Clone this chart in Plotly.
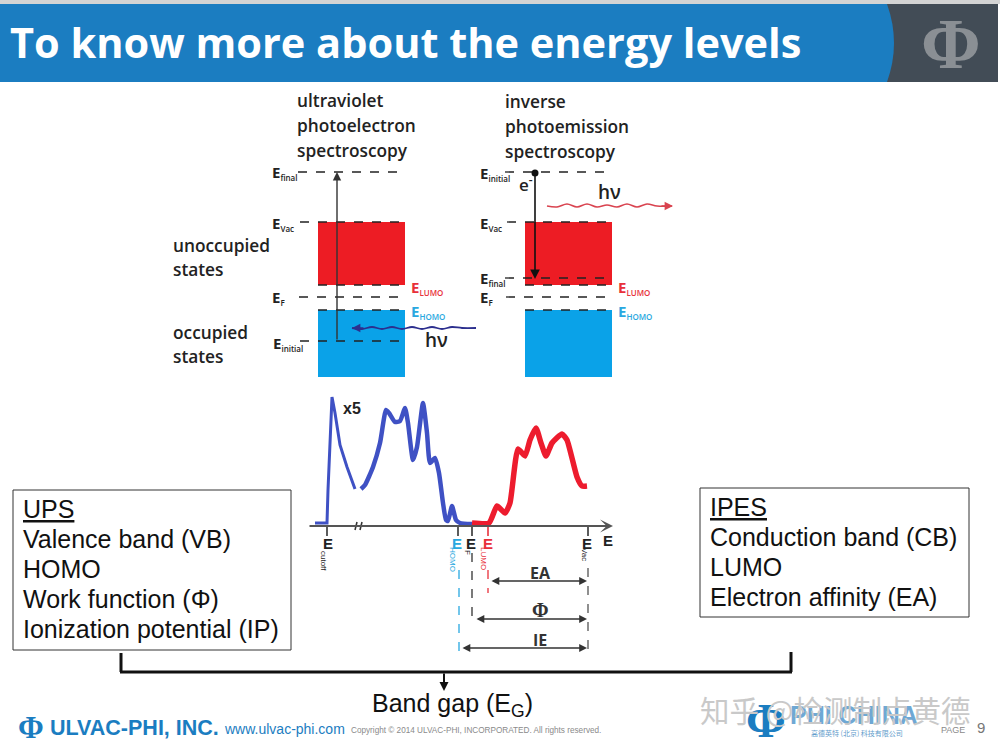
import plotly.graph_objects as go

# ---- data (x, y in slide pixels) ----
ups_low_x = [315, 327, 328, 332, 335, 340, 347, 355]
ups_low_y = [523, 523, 490, 397, 413, 445, 467, 489]
ups_val_x = [361, 365, 373, 380, 386, 389, 395, 400, 405, 408, 413, 417, 423, 427, 430, 435, 439, 443, 446, 448, 452, 456, 460, 472]
ups_val_y = [489, 485, 467, 443, 410, 413, 422, 421, 408, 423, 460, 447, 403, 433, 463, 458, 473, 503, 520, 521, 506, 520, 523, 524]
ipes_x = [472, 489, 497, 505, 510, 518, 525, 530, 536, 541, 546, 552, 562, 567, 577, 582, 587]
ipes_y = [523, 523, 506, 513, 503, 449, 456, 440, 428, 443, 456, 443, 434, 440, 477, 486, 486]
wave_blue_x = [352, 362, 372, 382, 392, 402, 412, 422, 432, 442, 452, 462, 476]
wave_blue_y = [328, 329, 327, 329, 327, 329, 327, 329, 327, 329, 327, 328, 328]
wave_red_x = [547, 557, 567, 577, 587, 597, 607, 617, 627, 637, 647, 657, 672]
wave_red_y = [206, 207, 204, 207, 204, 207, 205, 207, 204, 207, 204, 206, 206]
band_red = [(318, 405, 222, 285), (525, 612, 222, 285)]
band_blue = [(318, 405, 310, 377), (525, 612, 310, 377)]
levels_left = [(298, 405, 172), (300, 405, 222), (318, 405, 285), (299, 407, 297), (318, 405, 310), (300, 405, 341)]
levels_right = [(505, 612, 172), (507, 612, 222), (505, 612, 278), (525, 612, 285), (506, 614, 297), (525, 612, 310)]
ticks = [(327, '#333333'), (458, '#333333'), (472, '#333333'), (488, '#e8303a'), (588, '#333333')]
drops = [(459, 570, 655, '#29a8e0'), (472, 553, 622, '#333333'), (488, 570, 593, '#e8303a'), (588, 568, 655, '#555555')]
spans = [(490, 581), (475, 619), (461, 648)]
ups_items = ['UPS', 'Valence band (VB)', 'HOMO', 'Work function (Φ)', 'Ionization potential (IP)']
ipes_items = ['IPES', 'Conduction band (CB)', 'LUMO', 'Electron affinity (EA)']

BLUE = '#1b7dc1'
RED = '#ed1c24'
CYAN = '#0aa2e8'
DIA = 'Open Sans'
ARIAL = 'Liberation Sans'
shapes, notes, traces = [], [], []


def rect(x0, x1, y0, y1, fill, line=None, w=1):
    shapes.append(dict(type='rect', xref='x', yref='y', x0=x0, x1=x1, y0=y0, y1=y1, fillcolor=fill,
                       line=dict(color=line or fill, width=w if line else 0), layer='below'))


def seg(x0, y0, x1, y1, color='#222222', w=1.3, dash='solid'):
    shapes.append(dict(type='line', xref='x', yref='y', x0=x0, y0=y0, x1=x1, y1=y1,
                       line=dict(color=color, width=w, dash=dash)))


def txt(x, y, s, size=18, color='#222222', font=DIA, anchor='left', angle=0, weight=None):
    f = dict(size=size, color=color, family=font)
    if weight:
        f['weight'] = weight
    notes.append(dict(x=x - 2 if anchor == 'left' else x, y=y, xref='x', yref='y', text=s, showarrow=False,
                      xanchor=anchor, yanchor='middle', textangle=angle, font=f))


def arrow(x0, y0, x1, y1, color='#222222', w=1.3, both=False, head=2, size=1.2):
    notes.append(dict(x=x1, y=y1, ax=x0, ay=y0, xref='x', yref='y', axref='x', ayref='y', text='', showarrow=True,
                      arrowhead=head, startarrowhead=head, arrowsize=size, startarrowsize=size,
                      arrowwidth=w, arrowcolor=color, arrowside='end+start' if both else 'end'))


def elabel(x, y, sub, color='#222222'):
    txt(x, y, f'<b>E</b><sub><span style="font-size:8px">{sub}</span></sub>', 15, color, DIA, weight=600)


# header
rect(0, 1000, 0, 4, '#d4d4d4')
rect(880, 998, 4, 82, '#424c56')
shapes.append(dict(type='path', xref='x', yref='y', path='M0,4 L887,4 Q901,43 887,82 L0,82 Z',
                   fillcolor=BLUE, line=dict(width=0), layer='below'))
txt(10, 42, '<b>To know more about the energy levels</b>', 41.5, 'white', 'Open Sans')
txt(951, 44, '<b>Φ</b>', 72, '#8a8f94', 'Liberation Serif', 'center')

# bands and levels
for b in band_red:
    rect(b[0], b[1], b[2], b[3], RED)
for b in band_blue:
    rect(b[0], b[1], b[2], b[3], CYAN)
for x0, x1, y in levels_left + levels_right:
    seg(x0, y, x1, y, '#222222', 1.3, 'dash')

# diagram text
for i, s in enumerate(['ultraviolet', 'photoelectron', 'spectroscopy']):
    txt(297, 100 + 25 * i, s, 17.3, weight=600)
for i, s in enumerate(['inverse', 'photoemission', 'spectroscopy']):
    txt(505, 101 + 25 * i, s, 17.3, weight=600)
for y, s in [(245, 'unoccupied'), (269, 'states'), (332, 'occupied'), (356, 'states')]:
    txt(173, y, s, 17.3, weight=600)
for x, y, s in [(272, 172, 'final'), (272, 223, 'Vac'), (272, 297, 'F'), (273, 343, 'initial'),
                (480, 173, 'initial'), (480, 223, 'Vac'), (480, 278, 'final'), (480, 297, 'F')]:
    elabel(x, y, s)
for x in (411, 618):
    elabel(x, 287, 'LUMO', '#e8303a')
    elabel(x, 311, 'HOMO', '#29a8e0')
txt(425, 340, 'hν', 19, weight=600)
txt(598, 192, 'hν', 19, weight=600)
txt(519, 183, 'e<sup>-</sup>', 17, weight=600)
arrow(337, 341, 337, 172, '#333333', 1.4)
arrow(535, 173, 535, 279, '#111111', 1.6)
traces.append(go.Scatter(x=[535], y=[173], mode='markers', marker=dict(color='#111111', size=7), hoverinfo='skip'))
traces.append(go.Scatter(x=wave_blue_x, y=wave_blue_y, mode='lines', line=dict(color='#2c2f8e', width=1.8, shape='spline'), hoverinfo='skip'))
traces.append(go.Scatter(x=wave_red_x, y=wave_red_y, mode='lines', line=dict(color='#d9434f', width=1.6, shape='spline'), hoverinfo='skip'))
arrow(365, 328, 352, 328, '#2c2f8e', 1.4)
arrow(660, 206, 673, 206, '#d9434f', 1.4)

# spectrum
traces.append(go.Scatter(x=ups_low_x, y=ups_low_y, mode='lines', line=dict(color='#3f51c4', width=3), hoverinfo='skip'))
traces.append(go.Scatter(x=ups_val_x, y=ups_val_y, mode='lines', line=dict(color='#3f51c4', width=4.5, shape='spline', smoothing=0.5), hoverinfo='skip'))
traces.append(go.Scatter(x=ipes_x, y=ipes_y, mode='lines', line=dict(color='#ed1c2e', width=5.5, shape='spline', smoothing=0.5), hoverinfo='skip'))
arrow(308, 526, 613, 526, '#555555', 1.8, head=3)
seg(355, 530, 357, 522, '#333333', 1.5)
seg(360, 530, 362, 522, '#333333', 1.5)
for x, c in ticks:
    seg(x, 526, x, 536, c, 1.6)
txt(352, 408, '<b>x5</b>', 16, '#222222', ARIAL, 'center')
txt(608, 540, '<b>E</b>', 15, '#222222', ARIAL, 'center')
for x, sx, sy, sub, c in [(328, 324, 561, 'cutoff', '#222222'), (457, 453, 559, 'HOMO', '#29a8e0'),
                          (471, 468, 552, 'F', '#222222'), (488, 484, 558, 'LUMO', '#e8303a'),
                          (587, 585, 554, 'Vac', '#222222')]:
    txt(x, 543, '<b>E</b>', 15, c, ARIAL, 'center')
    txt(sx, sy, sub, 8, c, ARIAL, 'center', 90)
for x, y0, y1, c in drops:
    seg(x, y0, x, y1, c, 1.3, 'dash')
for x, y in spans:
    arrow(x, y, 587, y, '#333333', 1.3, both=True)
txt(540, 573, '<b>EA</b>', 16, '#333333', DIA, 'center')
txt(540, 610, '<b>Φ</b>', 20, '#333333', 'Liberation Serif', 'center')
txt(540, 640, '<b>IE</b>', 16, '#333333', DIA, 'center')

# boxes
rect(13, 291, 490, 650, 'white', '#333333', 1)
rect(700, 969, 488, 617, 'white', '#333333', 1)
for i, s in enumerate(ups_items):
    txt(23, 509 + 30 * i, f'<u>{s}</u>' if i == 0 else s, 25, '#111111', ARIAL)
for i, s in enumerate(ipes_items):
    txt(710, 507 + 30 * i, f'<u>{s}</u>' if i == 0 else s, 25, '#111111', ARIAL)
seg(121, 653, 121, 672, '#111111', 3)
seg(120, 672, 792, 672, '#111111', 3)
seg(791, 652, 791, 672, '#111111', 3)
arrow(444, 672, 444, 691, '#111111', 2, size=0.9)
txt(452, 705, 'Band gap (E<sub>G</sub>)', 25, '#111111', ARIAL, 'center')

# footer
txt(31, 727, '<b>Φ</b>', 31, BLUE, 'Liberation Serif', 'center')
txt(50, 728, '<b>ULVAC-PHI, INC.</b>', 21.5, BLUE, ARIAL)
txt(224, 729, 'www.ulvac-phi.com', 14, BLUE, ARIAL)
txt(351, 730, 'Copyright © 2014 ULVAC-PHI, INCORPORATED. All rights reserved.', 8.2, '#8a8a8a', ARIAL)
txt(766, 720, '<b>Φ</b>', 48, BLUE, 'Liberation Serif', 'center')
txt(790, 715, '<b>PHI CHINA</b>', 25, '#6fa8d4', ARIAL)
txt(811, 733, '高德英特 (北京) 科技有限公司', 7, '#5f9ccb', 'Noto Sans CJK SC')
txt(941, 730, 'PAGE', 9, '#8a8a8a', ARIAL)
txt(981, 727, '9', 15, '#777777', ARIAL, 'center')
txt(700, 709, '知乎 @检测制点黄德', 29.5, '#c9c9c9', 'Noto Sans CJK SC')

fig = go.Figure(traces)
fig.update_layout(width=1000, height=750, margin=dict(l=0, r=0, t=0, b=0), paper_bgcolor='white', plot_bgcolor='white',
                  showlegend=False, shapes=shapes, annotations=notes,
                  xaxis=dict(range=[0, 1000], visible=False, fixedrange=True),
                  yaxis=dict(range=[750, 0], visible=False, fixedrange=True))
fig.write_html('out.html', config=dict(displayModeBar=False),
               post_script="document.body.style.margin='0';document.documentElement.style.overflow='hidden';")
